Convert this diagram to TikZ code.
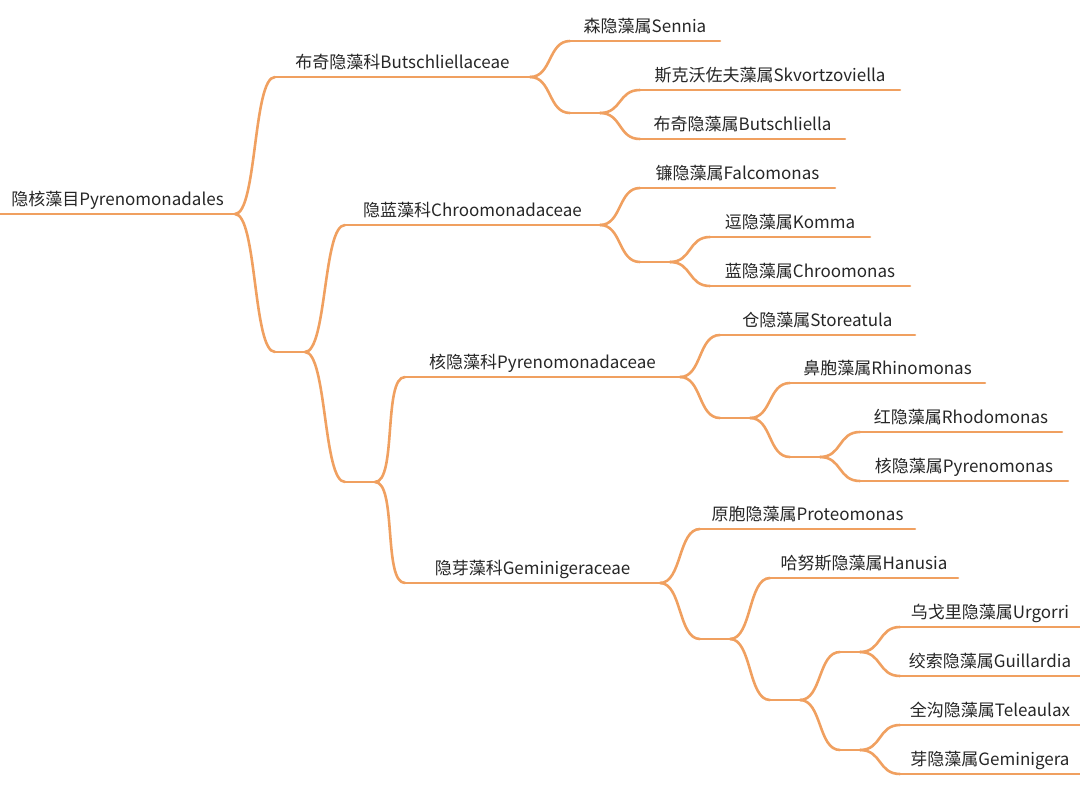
\documentclass[tikz,border=0pt]{standalone}
\usepackage{fontspec}
\newfontfamily\cjk{Noto Sans CJK SC}
\definecolor{br}{HTML}{F0A060}
\newcommand{\mbr}[5]{%
 \coordinate (#1S) at (#2,#4); \coordinate (#1E) at (#3,#4);
 \draw[edge] (#1S) -- (#1E);
 \node[lbl] (#1) at ($(#1S)!0.5!(#1E)+(0,-9)$) {#5};}
\newcommand{\mj}[4]{%
 \coordinate (#1S) at (#2,#4); \coordinate (#1E) at (#3,#4);
 \draw[edge] (#1S) -- (#1E);}
\newcommand{\cn}[2]{\draw[edge] (#1E) .. controls +(22,0) and +(-22,0) .. (#2S);}
\usetikzlibrary{calc}
\begin{document}
\begin{tikzpicture}[x=1pt,y=-1pt,
 edge/.style={draw=br,line width=2.6pt,line cap=round},
 lbl/.style={anchor=base,inner sep=0pt,font=\cjk\fontsize{17}{20}\selectfont,text=black!85}]
\useasboundingbox (0,0) rectangle (1080,790);
\mbr{r}{0}{235}{214}{隐核藻目Pyrenomonadales}
\mbr{a}{275}{530}{77}{布奇隐藻科Butschliellaceae}
\mj{j1}{275}{305}{352}
\mbr{b}{345}{600}{225}{隐蓝藻科Chroomonadaceae}
\mj{j2}{345}{375}{482}
\mbr{c}{405}{680}{377}{核隐藻科Pyrenomonadaceae}
\mbr{d}{405}{660}{583}{隐芽藻科Geminigeraceae}
\cn{r}{a}\cn{r}{j1}\cn{j1}{b}\cn{j1}{j2}\cn{j2}{c}\cn{j2}{d}
% a
\mbr{a1}{570}{720}{41}{森隐藻属Sennia}
\mj{ja}{570}{600}{113}
\mbr{a2}{640}{900}{90}{斯克沃佐夫藻属Skvortzoviella}
\mbr{a3}{640}{845}{139}{布奇隐藻属Butschliella}
\cn{a}{a1}\cn{a}{ja}\cn{ja}{a2}\cn{ja}{a3}
% b
\mbr{b1}{640}{835}{188}{镰隐藻属Falcomonas}
\mj{jb}{640}{670}{262}
\mbr{b2}{710}{870}{237}{逗隐藻属Komma}
\mbr{b3}{710}{910}{286}{蓝隐藻属Chroomonas}
\cn{b}{b1}\cn{b}{jb}\cn{jb}{b2}\cn{jb}{b3}
% c
\mbr{c1}{720}{915}{335}{仓隐藻属Storeatula}
\mj{jc}{720}{750}{418}
\mbr{c2}{790}{985}{383}{鼻胞藻属Rhinomonas}
\mj{jc2}{790}{820}{457}
\mbr{c3}{860}{1062}{432}{红隐藻属Rhodomonas}
\mbr{c4}{860}{1068}{481}{核隐藻属Pyrenomonas}
\cn{c}{c1}\cn{c}{jc}\cn{jc}{c2}\cn{jc}{jc2}\cn{jc2}{c3}\cn{jc2}{c4}
% d
\mbr{d1}{700}{915}{529}{原胞隐藻属Proteomonas}
\mj{jd}{700}{730}{639}
\mbr{d2}{770}{958}{578}{哈努斯隐藻属Hanusia}
\mj{jd2}{770}{800}{700}
\mj{jd3}{840}{860}{652}
\mj{jd4}{840}{860}{750}
\mbr{d3}{900}{1080}{627}{乌戈里隐藻属Urgorri}
\mbr{d4}{900}{1080}{676}{绞索隐藻属Guillardia}
\mbr{d5}{900}{1080}{725}{全沟隐藻属Teleaulax}
\mbr{d6}{900}{1080}{774}{芽隐藻属Geminigera}
\cn{d}{d1}\cn{d}{jd}\cn{jd}{d2}\cn{jd}{jd2}\cn{jd2}{jd3}\cn{jd2}{jd4}
\cn{jd3}{d3}\cn{jd3}{d4}\cn{jd4}{d5}\cn{jd4}{d6}
\end{tikzpicture}
\end{document}
